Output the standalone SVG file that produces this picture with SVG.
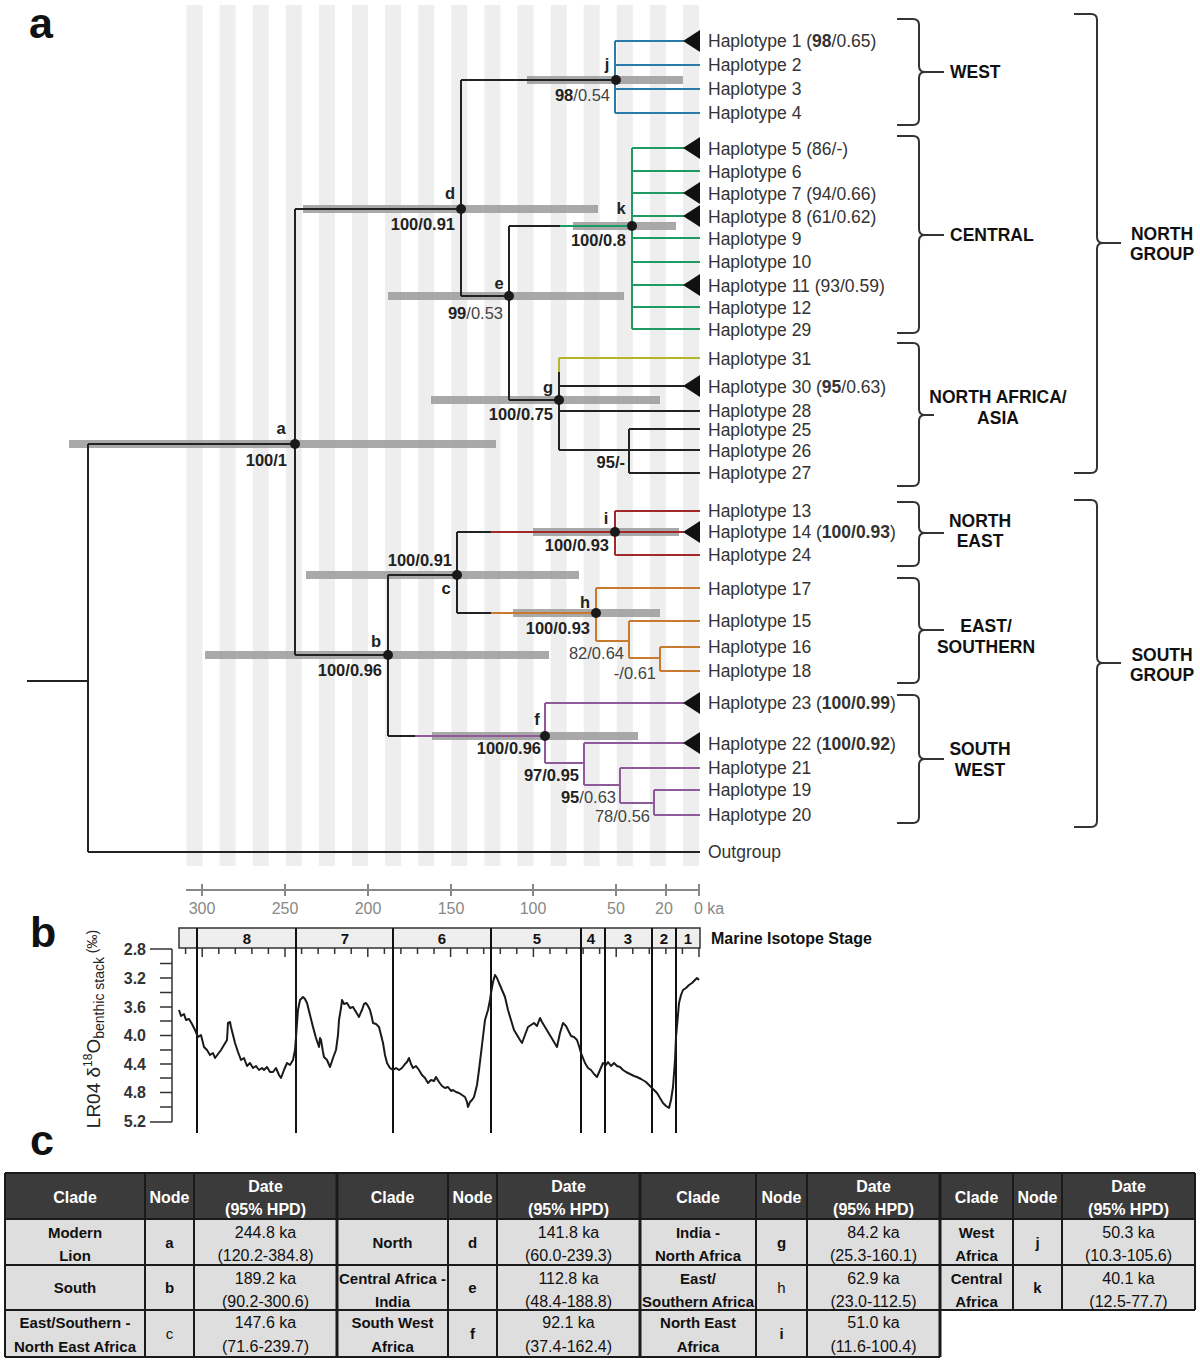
<svg xmlns="http://www.w3.org/2000/svg" width="1200" height="1361" viewBox="0 0 1200 1361">
<style>
text{font-family:"Liberation Sans",Arial,sans-serif}
.panel{font-size:43px;font-weight:bold;fill:#111}
.stripe{fill:#eeeeee}
.ln{fill:none;stroke:#222;stroke-width:2}
.blue{stroke:#2b7ba9}
.green{stroke:#1f9a62}
.yel{stroke:#b5b52a}
.red{stroke:#a3282a}
.orn{stroke:#c87a30}
.pur{stroke:#8e5a9a}
.bar{fill:#9a9a9a;opacity:.85}
.dot{fill:#1a1a1a}
.hl{font-size:17.5px;fill:#333}
.nl{font-size:16.5px;font-weight:bold;fill:#222}
.nn{font-size:16.5px;fill:#444}
.lt{font-size:16.5px;font-weight:bold;fill:#222;text-anchor:middle}
.tri{fill:#111}
.brace{fill:none;stroke:#333;stroke-width:2}
.cl{font-size:17.5px;font-weight:bold;fill:#111}
.ax{font-size:16px;fill:#888}
.yt{font-size:16px;font-weight:bold;fill:#333;text-anchor:end}
.ms{font-size:15px;font-weight:bold;fill:#111;text-anchor:middle}
.th{font-size:16px;font-weight:bold;fill:#fff;text-anchor:middle}
.tc{font-size:15px;fill:#111;text-anchor:middle}
.b{font-weight:bold}
.td{font-size:16px;fill:#111;text-anchor:middle}
.tb{fill:none;stroke:#1a1a1a;stroke-width:2}
</style>

<text class="panel" x="29" y="38">a</text>

<g id="stripes">
<rect class="stripe" x="683" y="5" width="16" height="861"/>
<rect class="stripe" x="649.9" y="5" width="16" height="861"/>
<rect class="stripe" x="616.8" y="5" width="16" height="861"/>
<rect class="stripe" x="583.7" y="5" width="16" height="861"/>
<rect class="stripe" x="550.6" y="5" width="16" height="861"/>
<rect class="stripe" x="517.5" y="5" width="16" height="861"/>
<rect class="stripe" x="484.4" y="5" width="16" height="861"/>
<rect class="stripe" x="451.3" y="5" width="16" height="861"/>
<rect class="stripe" x="418.2" y="5" width="16" height="861"/>
<rect class="stripe" x="385.1" y="5" width="16" height="861"/>
<rect class="stripe" x="352" y="5" width="16" height="861"/>
<rect class="stripe" x="318.9" y="5" width="16" height="861"/>
<rect class="stripe" x="285.8" y="5" width="16" height="861"/>
<rect class="stripe" x="252.7" y="5" width="16" height="861"/>
<rect class="stripe" x="219.6" y="5" width="16" height="861"/>
<rect class="stripe" x="186.5" y="5" width="16" height="861"/>
</g>

<g id="hpd-bars">
<rect class="bar" x="527" y="76" width="156" height="8"/>
<rect class="bar" x="303" y="205" width="295" height="8"/>
<rect class="bar" x="573" y="222" width="103" height="8"/>
<rect class="bar" x="388" y="292" width="236" height="8"/>
<rect class="bar" x="431" y="396" width="229" height="8"/>
<rect class="bar" x="69" y="440" width="427" height="8"/>
<rect class="bar" x="533" y="528" width="146" height="8"/>
<rect class="bar" x="306" y="571" width="273" height="8"/>
<rect class="bar" x="513" y="609" width="147" height="8"/>
<rect class="bar" x="205" y="651" width="344" height="8"/>
<rect class="bar" x="432" y="732" width="206" height="8"/>
</g>

<g id="connectors">
<path class="ln" d="M27,681H88 M88,444V852 M88,852H700 M88,444H295 M295,209V655 M295,209H461 M461,80V296 M461,80H616 M461,296H509 M509,226V400 M509,226H560 M509,400H559 M559,372V450 M559,386H684 M559,411H700 M559,450H700 M629,429V473 M629,429H700 M629,473H700 M295,655H388 M388,575V736 M388,575H457 M457,532V613 M457,532H491 M457,613H491 M388,736H415"/>
<path class="ln yel" d="M559,358V372 M559,358H700"/>
<path class="ln blue" d="M615,41V113 M615,41H684 M615,65H700 M615,89H700 M615,113H700"/>
<path class="ln green" d="M560,226H632 M632,148V329 M632,148H684 M632,171H700 M632,193H684 M632,216H684 M632,238H700 M632,262H700 M632,285H684 M632,307H700 M632,329H700"/>
<path class="ln red" d="M491,532H615 M615,511V555 M615,511H700 M615,532H684 M615,555H700"/>
<path class="ln orn" d="M491,613H596 M596,588V641 M596,588H700 M596,641H629 M629,621V658 M629,621H700 M629,658H660 M660,647V671 M660,647H700 M660,671H700"/>
<path class="ln pur" d="M415,736H545 M545,703V763 M545,703H684 M545,763H584 M584,743V785 M584,743H684 M584,785H620 M620,768V803 M620,768H700 M620,803H654 M654,790V815 M654,790H700 M654,815H700"/>
</g>

<g id="node-a"><circle class="dot" cx="295" cy="444" r="5"/><text class="lt" x="281" y="434">a</text><text class="nl" x="287" y="466" text-anchor="end">100/1</text></g>
<g id="node-b"><circle class="dot" cx="388" cy="655" r="5"/><text class="lt" x="376" y="647">b</text><text class="nl" x="382" y="676" text-anchor="end">100/0.96</text></g>
<g id="node-c"><circle class="dot" cx="457" cy="575" r="5"/><text class="lt" x="446" y="594">c</text><text class="nl" x="452" y="566" text-anchor="end">100/0.91</text></g>
<g id="node-d"><circle class="dot" cx="461" cy="209" r="5"/><text class="lt" x="450" y="199">d</text><text class="nl" x="455" y="230" text-anchor="end">100/0.91</text></g>
<g id="node-e"><circle class="dot" cx="509" cy="296" r="5"/><text class="lt" x="499" y="289">e</text><text class="nl" x="503" y="319" text-anchor="end">99<tspan class="nn" font-weight="normal">/0.53</tspan></text></g>
<g id="node-f"><circle class="dot" cx="545" cy="736" r="5"/><text class="lt" x="537" y="725">f</text><text class="nl" x="541" y="754" text-anchor="end">100/0.96</text></g>
<g id="node-g"><circle class="dot" cx="559" cy="400" r="5"/><text class="lt" x="548" y="393">g</text><text class="nl" x="553" y="420" text-anchor="end">100/0.75</text></g>
<g id="node-h"><circle class="dot" cx="596" cy="613" r="5"/><text class="lt" x="585" y="608">h</text><text class="nl" x="590" y="634" text-anchor="end">100/0.93</text></g>
<g id="node-i"><circle class="dot" cx="615" cy="532" r="5"/><text class="lt" x="606" y="524">i</text><text class="nl" x="609" y="551" text-anchor="end">100/0.93</text></g>
<g id="node-j"><circle class="dot" cx="616" cy="80" r="5"/><text class="lt" x="607" y="70">j</text><text class="nl" x="610" y="101" text-anchor="end">98<tspan class="nn" font-weight="normal">/0.54</tspan></text></g>
<g id="node-k"><circle class="dot" cx="632" cy="226" r="5"/><text class="lt" x="621" y="214">k</text><text class="nl" x="626" y="246" text-anchor="end">100/0.8</text></g>
<g id="node-95"><text class="nl" x="625" y="468" text-anchor="end">95/-</text></g>
<g id="node-82"><text class="nn" x="624" y="659" text-anchor="end">82/0.64</text></g>
<g id="node-061"><text class="nn" x="656" y="679" text-anchor="end">-/0.61</text></g>
<g id="node-97"><text class="nl" x="579" y="781" text-anchor="end">97/0.95</text></g>
<g id="node-95b"><text class="nl" x="616" y="803" text-anchor="end">95<tspan class="nn" font-weight="normal">/0.63</tspan></text></g>
<g id="node-78"><text class="nn" x="650" y="822" text-anchor="end">78/0.56</text></g>

<g id="hap1"><polygon class="tri" points="683,41 700,30 700,52"/><text class="hl" x="708" y="47">Haplotype 1 (<tspan font-weight="bold">98</tspan>/0.65)</text></g>
<g id="hap2"><text class="hl" x="708" y="71">Haplotype 2</text></g>
<g id="hap3"><text class="hl" x="708" y="95">Haplotype 3</text></g>
<g id="hap4"><text class="hl" x="708" y="119">Haplotype 4</text></g>
<g id="hap5"><polygon class="tri" points="683,148 700,137 700,159"/><text class="hl" x="708" y="155">Haplotype 5 (86/-)</text></g>
<g id="hap6"><text class="hl" x="708" y="178">Haplotype 6</text></g>
<g id="hap7"><polygon class="tri" points="683,193 700,182 700,204"/><text class="hl" x="708" y="200">Haplotype 7 (94/0.66)</text></g>
<g id="hap8"><polygon class="tri" points="683,216 700,205 700,227"/><text class="hl" x="708" y="223">Haplotype 8 (61/0.62)</text></g>
<g id="hap9"><text class="hl" x="708" y="245">Haplotype 9</text></g>
<g id="hap10"><text class="hl" x="708" y="268">Haplotype 10</text></g>
<g id="hap11"><polygon class="tri" points="683,285 700,274 700,296"/><text class="hl" x="708" y="292">Haplotype 11 (93/0.59)</text></g>
<g id="hap12"><text class="hl" x="708" y="314">Haplotype 12</text></g>
<g id="hap29"><text class="hl" x="708" y="336">Haplotype 29</text></g>
<g id="hap31"><text class="hl" x="708" y="365">Haplotype 31</text></g>
<g id="hap30"><polygon class="tri" points="683,386 700,375 700,397"/><text class="hl" x="708" y="393">Haplotype 30 (<tspan font-weight="bold">95</tspan>/0.63)</text></g>
<g id="hap28"><text class="hl" x="708" y="417">Haplotype 28</text></g>
<g id="hap25"><text class="hl" x="708" y="436">Haplotype 25</text></g>
<g id="hap26"><text class="hl" x="708" y="457">Haplotype 26</text></g>
<g id="hap27"><text class="hl" x="708" y="479">Haplotype 27</text></g>
<g id="hap13"><text class="hl" x="708" y="517">Haplotype 13</text></g>
<g id="hap14"><polygon class="tri" points="683,532 700,521 700,543"/><text class="hl" x="708" y="538">Haplotype 14 (<tspan font-weight="bold">100/0.93</tspan>)</text></g>
<g id="hap24"><text class="hl" x="708" y="561">Haplotype 24</text></g>
<g id="hap17"><text class="hl" x="708" y="595">Haplotype 17</text></g>
<g id="hap15"><text class="hl" x="708" y="627">Haplotype 15</text></g>
<g id="hap16"><text class="hl" x="708" y="653">Haplotype 16</text></g>
<g id="hap18"><text class="hl" x="708" y="677">Haplotype 18</text></g>
<g id="hap23"><polygon class="tri" points="683,703 700,692 700,714"/><text class="hl" x="708" y="709">Haplotype 23 (<tspan font-weight="bold">100/0.99</tspan>)</text></g>
<g id="hap22"><polygon class="tri" points="683,743 700,732 700,754"/><text class="hl" x="708" y="750">Haplotype 22 (<tspan font-weight="bold">100/0.92</tspan>)</text></g>
<g id="hap21"><text class="hl" x="708" y="774">Haplotype 21</text></g>
<g id="hap19"><text class="hl" x="708" y="796">Haplotype 19</text></g>
<g id="hap20"><text class="hl" x="708" y="821">Haplotype 20</text></g>
<g id="outgroup"><text class="hl" x="708" y="858">Outgroup</text></g>

<g id="clade-west"><path class="brace" d="M897,19H913Q919,19 919,25V66Q919,72 925,72Q919,72 919,78V119Q919,125 913,125H897M925,72H944"/><text class="cl" x="950" y="78">WEST</text></g>
<g id="clade-central"><path class="brace" d="M897,136H913Q919,136 919,142V229Q919,235 925,235Q919,235 919,241V327Q919,333 913,333H897M925,235H944"/><text class="cl" x="950" y="241">CENTRAL</text></g>
<g id="clade-nafrica"><path class="brace" d="M897,343H913Q919,343 919,349V409Q919,415 925,415Q919,415 919,421V480Q919,486 913,486H897M925,415H934"/><text class="cl" x="998" y="403" text-anchor="middle">NORTH AFRICA/</text><text class="cl" x="998" y="424" text-anchor="middle">ASIA</text></g>
<g id="clade-northeast"><path class="brace" d="M897,502H913Q919,502 919,508V527Q919,533 925,533Q919,533 919,539V560Q919,566 913,566H897M925,533H944"/><text class="cl" x="980" y="527" text-anchor="middle">NORTH</text><text class="cl" x="980" y="547" text-anchor="middle">EAST</text></g>
<g id="clade-eastsouth"><path class="brace" d="M897,578H913Q919,578 919,584V624Q919,630 925,630Q919,630 919,636V677Q919,683 913,683H897M925,630H944"/><text class="cl" x="986" y="632" text-anchor="middle">EAST/</text><text class="cl" x="986" y="653" text-anchor="middle">SOUTHERN</text></g>
<g id="clade-southwest"><path class="brace" d="M897,695H913Q919,695 919,701V753Q919,759 925,759Q919,759 919,765V817Q919,823 913,823H897M925,759H944"/><text class="cl" x="980" y="755" text-anchor="middle">SOUTH</text><text class="cl" x="980" y="776" text-anchor="middle">WEST</text></g>
<g id="group-north"><path class="brace" d="M1074,14H1091Q1097,14 1097,20V237Q1097,243 1103,243Q1097,243 1097,249V467Q1097,473 1091,473H1074M1103,243H1121"/><text class="cl" x="1162" y="240" text-anchor="middle">NORTH</text><text class="cl" x="1162" y="260" text-anchor="middle">GROUP</text></g>
<g id="group-south"><path class="brace" d="M1074,500H1091Q1097,500 1097,506V657Q1097,663 1103,663Q1097,663 1097,669V821Q1097,827 1091,827H1074M1103,663H1121"/><text class="cl" x="1162" y="661" text-anchor="middle">SOUTH</text><text class="cl" x="1162" y="681" text-anchor="middle">GROUP</text></g>

<g id="time-axis">
<path d="M186,890H699 M202,884V896 M285,884V896 M368,884V896 M451,884V896 M533,884V896 M616,884V896 M666,884V896 M699,884V896" fill="none" stroke="#888" stroke-width="2"/>
<text class="ax" x="202" y="914" text-anchor="middle">300</text>
<text class="ax" x="285" y="914" text-anchor="middle">250</text>
<text class="ax" x="368" y="914" text-anchor="middle">200</text>
<text class="ax" x="451" y="914" text-anchor="middle">150</text>
<text class="ax" x="533" y="914" text-anchor="middle">100</text>
<text class="ax" x="616" y="914" text-anchor="middle">50</text>
<text class="ax" x="664" y="914" text-anchor="middle">20</text>
<text class="ax" x="694" y="914">0 ka</text>
</g>

<text class="panel" x="30" y="947">b</text>

<g id="mis">
<rect x="179" y="928" width="521" height="20" fill="#eeeeee" stroke="#333" stroke-width="1.5"/>
<path d="M699,948v9 M682.4,948v6 M665.9,948v6 M649.3,948v6 M632.8,948v6 M616.2,948v9 M599.6,948v6 M583.1,948v6 M566.5,948v6 M550,948v6 M533.4,948v9 M516.8,948v6 M500.3,948v6 M483.7,948v6 M467.2,948v6 M450.6,948v9 M434,948v6 M417.5,948v6 M400.9,948v6 M384.4,948v6 M367.8,948v9 M351.2,948v6 M334.7,948v6 M318.1,948v6 M301.6,948v6 M285,948v9 M268.4,948v6 M251.9,948v6 M235.3,948v6 M218.8,948v6 M202.2,948v9 M185.6,948v6" fill="none" stroke="#333" stroke-width="1.5"/>
<path d="M197,928V1133 M296,928V1133 M393,928V1133 M491,928V1133 M581,928V1133 M605,928V1133 M652,928V1133 M676,928V1133" fill="none" stroke="#111" stroke-width="2"/>
<text class="ms" x="247" y="944">8</text>
<text class="ms" x="345" y="944">7</text>
<text class="ms" x="442" y="944">6</text>
<text class="ms" x="537" y="944">5</text>
<text class="ms" x="591" y="944">4</text>
<text class="ms" x="628" y="944">3</text>
<text class="ms" x="664" y="944">2</text>
<text class="ms" x="688" y="944">1</text>
<text x="711" y="944" font-size="16" font-weight="bold" fill="#111">Marine Isotope Stage</text>
</g>

<g id="d18o-axis">
<path d="M172,949V1122 M150,949H172 M160,963.5H172 M160,978H172 M160,992.5H172 M160,1007H172 M160,1021H172 M160,1035.5H172 M160,1050H172 M160,1064H172 M160,1078H172 M160,1092.5H172 M160,1107H172 M150,1122H172" fill="none" stroke="#333" stroke-width="1.5"/>
<text class="yt" x="146" y="955">2.8</text>
<text class="yt" x="146" y="984">3.2</text>
<text class="yt" x="146" y="1013">3.6</text>
<text class="yt" x="146" y="1041">4.0</text>
<text class="yt" x="146" y="1070">4.4</text>
<text class="yt" x="146" y="1098">4.8</text>
<text class="yt" x="146" y="1127">5.2</text>
<text transform="translate(100,1029) rotate(-90)" text-anchor="middle" font-size="19" fill="#222">LR04 δ<tspan font-size="12" dy="-8">18</tspan><tspan dy="8">O</tspan><tspan font-size="14" dy="4">benthic stack</tspan><tspan font-size="14" dy="-7"> (‰)</tspan></text>
</g>

<g id="d18o-curve">
<polyline fill="none" stroke="#1a1a1a" stroke-width="2" stroke-linejoin="round" points="179,1010 181,1016 184,1014 186,1020 189,1019 192,1024 195,1030 198,1037 201,1035 204,1047 207,1050 210,1055 213,1053 215,1058 218,1054 221,1050 224,1045 227,1040 228,1023 230,1022 231,1027 233,1035 235,1043 238,1052 241,1060 244,1058 247,1066 250,1063 253,1068 256,1066 259,1070 262,1068 264,1070 267,1067 270,1072 273,1072 276,1068 279,1075 281,1078 284,1070 287,1063 290,1065 293,1060 295,1050 296,1037 298,1010 300,1000 303,997 305,999 307,1003 310,1015 313,1027 316,1038 319,1047 320,1038 321,1040 323,1052 324,1057 327,1060 330,1067 333,1058 336,1050 338,1035 339,1020 341,1008 342,1000 344,1004 347,1003 350,1008 353,1007 356,1012 359,1017 361,1012 362,1010 364,1004 366,1003 368,1006 370,1010 372,1018 373,1023 376,1024 379,1027 381,1035 383,1043 385,1055 387,1063 390,1068 393,1070 396,1068 399,1070 402,1068 405,1064 407,1062 409,1058 411,1064 413,1068 416,1066 419,1070 422,1075 425,1078 428,1083 431,1080 434,1081 436,1077 439,1082 442,1086 445,1088 448,1087 451,1091 453,1090 456,1092 459,1093 462,1095 465,1097 467,1102 468,1107 470,1102 472,1100 474,1097 477,1085 479,1070 482,1045 485,1020 488,1010 490,1000 491,993 493,982 495,975 497,978 499,983 502,990 505,997 508,1010 511,1020 514,1030 517,1035 520,1040 522,1043 525,1035 528,1027 531,1025 534,1023 537,1026 540,1018 542,1022 545,1027 548,1032 551,1037 554,1042 557,1047 560,1033 563,1023 566,1026 568,1030 571,1036 574,1037 577,1040 579,1046 581,1053 583,1058 585,1063 588,1068 591,1070 594,1074 597,1077 600,1070 603,1063 606,1065 608,1062 611,1066 614,1063 617,1066 620,1067 623,1070 626,1072 630,1074 634,1076 637,1077 641,1079 646,1082 649,1085 651,1087 654,1090 657,1093 660,1098 663,1103 666,1106 669,1108 671,1100 673,1087 675,1060 676,1037 678,1015 679,1003 681,995 683,990 686,988 689,985 692,983 695,980 697,978 699,980"/>
</g>

<text class="panel" x="30" y="1155">c</text>

<g id="table">
<rect x="5" y="1173" width="1190" height="46" fill="#3b3b3b"/>
<rect x="5" y="1219" width="935" height="138" fill="#dedede"/>
<rect x="940" y="1219" width="255" height="91" fill="#dedede"/>
<path class="tb" d="M5,1173H1195 M5,1219H1195 M5,1265H1195 M5,1310H1195 M5,1357H940 M5,1173V1357 M145,1173V1357 M194,1173V1357 M448,1173V1357 M497,1173V1357 M756,1173V1357 M807,1173V1357 M1013,1173V1310 M1062,1173V1310 M1195,1173V1310"/>
<path d="M337,1173V1357 M640,1173V1357 M940,1173V1357" fill="none" stroke="#1a1a1a" stroke-width="3"/>

<text class="th" x="75" y="1203">Clade</text><text class="th" x="169.5" y="1203">Node</text><text class="th" x="265.5" y="1192">Date</text><text class="th" x="265.5" y="1215">(95% HPD)</text>
<text class="th" x="392.5" y="1203">Clade</text><text class="th" x="472.5" y="1203">Node</text><text class="th" x="568.5" y="1192">Date</text><text class="th" x="568.5" y="1215">(95% HPD)</text>
<text class="th" x="698" y="1203">Clade</text><text class="th" x="781.5" y="1203">Node</text><text class="th" x="873.5" y="1192">Date</text><text class="th" x="873.5" y="1215">(95% HPD)</text>
<text class="th" x="976.5" y="1203">Clade</text><text class="th" x="1037.5" y="1203">Node</text><text class="th" x="1128.5" y="1192">Date</text><text class="th" x="1128.5" y="1215">(95% HPD)</text>

<text class="tc b" x="75" y="1238">Modern</text><text class="tc b" x="75" y="1261">Lion</text><text class="tc b" x="169.5" y="1248">a</text><text class="td" x="265.5" y="1238">244.8 ka</text><text class="td" x="265.5" y="1261">(120.2-384.8)</text>
<text class="tc b" x="75" y="1293">South</text><text class="tc b" x="169.5" y="1293">b</text><text class="td" x="265.5" y="1284">189.2 ka</text><text class="td" x="265.5" y="1307">(90.2-300.6)</text>
<text class="tc b" x="75" y="1328">East/Southern -</text><text class="tc b" x="75" y="1352">North East Africa</text><text class="tc" x="169.5" y="1339">c</text><text class="td" x="265.5" y="1328">147.6 ka</text><text class="td" x="265.5" y="1352">(71.6-239.7)</text>

<text class="tc b" x="392.5" y="1248">North</text><text class="tc b" x="472.5" y="1248">d</text><text class="td" x="568.5" y="1238">141.8 ka</text><text class="td" x="568.5" y="1261">(60.0-239.3)</text>
<text class="tc b" x="392.5" y="1284">Central Africa -</text><text class="tc b" x="392.5" y="1307">India</text><text class="tc b" x="472.5" y="1293">e</text><text class="td" x="568.5" y="1284">112.8 ka</text><text class="td" x="568.5" y="1307">(48.4-188.8)</text>
<text class="tc b" x="392.5" y="1328">South West</text><text class="tc b" x="392.5" y="1352">Africa</text><text class="tc b" x="472.5" y="1339">f</text><text class="td" x="568.5" y="1328">92.1 ka</text><text class="td" x="568.5" y="1352">(37.4-162.4)</text>

<text class="tc b" x="698" y="1238">India -</text><text class="tc b" x="698" y="1261">North Africa</text><text class="tc b" x="781.5" y="1248">g</text><text class="td" x="873.5" y="1238">84.2 ka</text><text class="td" x="873.5" y="1261">(25.3-160.1)</text>
<text class="tc b" x="698" y="1284">East/</text><text class="tc b" x="698" y="1307">Southern Africa</text><text class="tc" x="781.5" y="1293">h</text><text class="td" x="873.5" y="1284">62.9 ka</text><text class="td" x="873.5" y="1307">(23.0-112.5)</text>
<text class="tc b" x="698" y="1328">North East</text><text class="tc b" x="698" y="1352">Africa</text><text class="tc b" x="781.5" y="1339">i</text><text class="td" x="873.5" y="1328">51.0 ka</text><text class="td" x="873.5" y="1352">(11.6-100.4)</text>

<text class="tc b" x="976.5" y="1238">West</text><text class="tc b" x="976.5" y="1261">Africa</text><text class="tc b" x="1037.5" y="1248">j</text><text class="td" x="1128.5" y="1238">50.3 ka</text><text class="td" x="1128.5" y="1261">(10.3-105.6)</text>
<text class="tc b" x="976.5" y="1284">Central</text><text class="tc b" x="976.5" y="1307">Africa</text><text class="tc b" x="1037.5" y="1293">k</text><text class="td" x="1128.5" y="1284">40.1 ka</text><text class="td" x="1128.5" y="1307">(12.5-77.7)</text>
</g>
</svg>
